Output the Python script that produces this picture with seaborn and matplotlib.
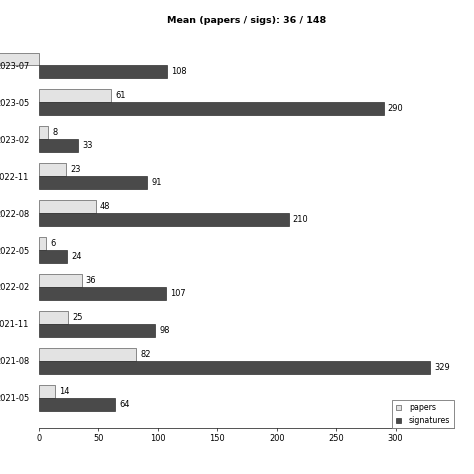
import matplotlib
matplotlib.use('Agg')
import pandas as pd
import matplotlib.pyplot as plt
import seaborn as sns

months = ['2023-07', '2023-05', '2023-02', '2022-11', '2022-08',
          '2022-05', '2022-02', '2021-11', '2021-08', '2021-05']
papers = [-57, 61, 8, 23, 48, 6, 36, 25, 82, 14]
signatures = [108, 290, 33, 91, 210, 24, 107, 98, 329, 64]
kinds = ['papers', 'signatures']
colors = {'papers': '#e3e3e3', 'signatures': '#4a4a4a'}
edges = {'papers': '#555555', 'signatures': '#2a2a2a'}
title = 'Mean (papers / sigs): 36 / 148'

df = pd.DataFrame({
    'month': months * 2,
    'count': papers + signatures,
    'kind': [kinds[0]] * len(months) + [kinds[1]] * len(months),
})

fig = plt.figure(figsize=(8, 8), dpi=59.25)
ax = fig.add_axes([0.0816, 0.096, 0.876, 0.831])
sns.barplot(data=df, y='month', x='count', hue='kind', order=months,
            hue_order=kinds, palette=colors, width=0.7, orient='h',
            saturation=1, linewidth=0.8, ax=ax)

for kind, cont in zip(kinds, ax.containers):
    for p in cont:
        p.set_edgecolor(edges[kind])
        p.set_clip_on(False)
    ax.bar_label(cont, padding=5, fontsize=10)

ax.set_xlim(0, 349)
ax.set_ylim(len(months) - 1 + 0.835, -0.835)
for s in ['top', 'right', 'left']:
    ax.spines[s].set_visible(False)
ax.tick_params(axis='y', length=0, pad=11.5, labelsize=10)
ax.tick_params(axis='x', labelsize=10)
ax.set_xlabel('')
ax.set_ylabel('')
ax.set_title(title, fontweight='bold', fontsize=11.5, pad=14)

sns.move_legend(ax, 'lower right', title=None, borderaxespad=0, fancybox=False,
                edgecolor='0.45', framealpha=1, fontsize=9.5,
                handlelength=0.7, handleheight=0.7, handletextpad=1.0,
                borderpad=0.45)
for kind, h in zip(kinds, ax.get_legend().legend_handles):
    h.set_facecolor(colors[kind])
    h.set_edgecolor(edges[kind])
    h.set_linewidth(0.8)

fig.savefig('out.png', dpi=59.25)
